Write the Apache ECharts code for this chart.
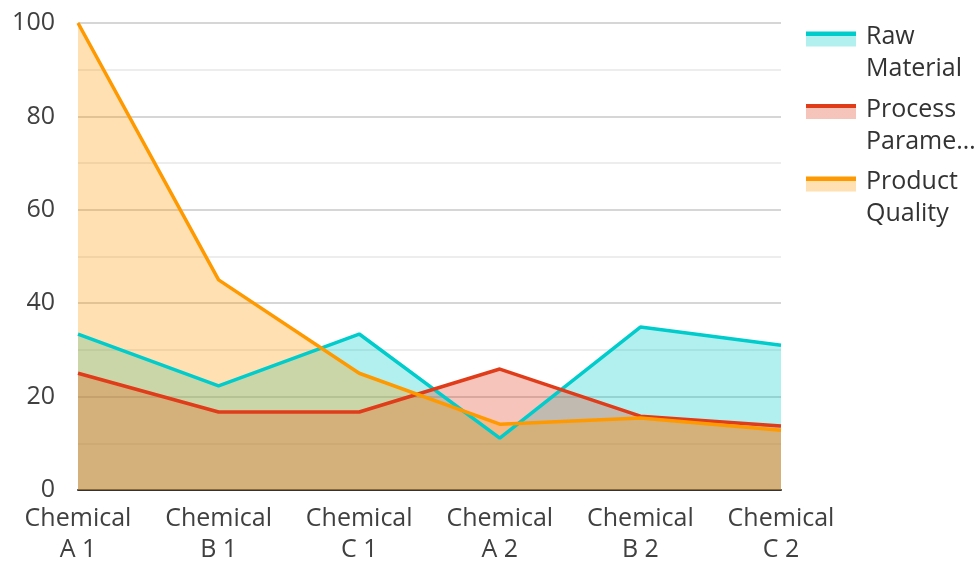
<!DOCTYPE html>
<html>
<head>
<meta charset="utf-8">
<script src="https://cdn.jsdelivr.net/npm/echarts@6/dist/echarts.min.js"></script>
<style>
  html, body { margin: 0; padding: 0; background: #fff; }
  #main { width: 976px; height: 562px; }
</style>
</head>
<body>
<div id="main"></div>
<script>
var categories = ['Chemical A 1', 'Chemical B 1', 'Chemical C 1', 'Chemical A 2', 'Chemical B 2', 'Chemical C 2'];
var rawMaterial = [33.4, 22.3, 33.4, 11.1, 34.9, 31.0];
var processParams = [25.0, 16.7, 16.7, 25.9, 15.8, 13.7];
var productQuality = [100, 45, 25, 14.1, 15.4, 12.8];
var seriesNames = ['Raw Material', 'Process Parameters', 'Product Quality'];
var legendLabels = {
  'Raw Material': ['Raw', 'Material'],
  'Process Parameters': ['Process', 'Parame\u2026'],
  'Product Quality': ['Product', 'Quality']
};
var lineColors = ['#00cccc', '#e03c1a', '#ff9900'];
var areaColors = ['rgba(0,204,204,0.3)', 'rgba(224,60,26,0.3)', 'rgba(255,153,0,0.3)'];

var chart = echarts.init(document.getElementById('main'), null, { renderer: 'canvas' });

function iconColor(i) {
  // line on top, area below
  return {
    type: 'linear', x: 0, y: 0, x2: 0, y2: 1,
    colorStops: [
      { offset: 0, color: lineColors[i] },
      { offset: 0.27, color: lineColors[i] },
      { offset: 0.27, color: areaColors[i] },
      { offset: 1, color: areaColors[i] }
    ]
  };
}

function makeSeries(i, data) {
  return {
    name: seriesNames[i],
    type: 'line',
    data: data,
    showSymbol: false,
    symbol: 'none',
    lineStyle: { color: lineColors[i], width: 3.5 },
    itemStyle: { color: lineColors[i] },
    areaStyle: { color: areaColors[i], opacity: 1 }
  };
}

var option = {
  textStyle: { fontFamily: 'Open Sans' },
  grid: { left: 78, right: 195, top: 23, bottom: 72, containLabel: false, outerBoundsMode: 'none' },
  legend: {
    orient: 'vertical',
    left: 806,
    top: 3,
    padding: 0,
    itemWidth: 50,
    itemHeight: 15,
    itemGap: -6,
    icon: 'rect',
    data: seriesNames.map(function (n, i) {
      return { name: n, icon: 'rect', itemStyle: { color: iconColor(i) } };
    }),
    formatter: function (name) {
      var l = legendLabels[name];
      return '{s| }\n{t|' + l[0] + '}\n{t|' + l[1] + '}';
    },
    textStyle: {
      fontSize: 25,
      color: '#333',
      padding: [0, 0, 0, 5],
      rich: {
        s: { fontSize: 8, lineHeight: 28 },
        t: { fontSize: 25, lineHeight: 32, color: '#333' }
      }
    }
  },
  xAxis: {
    type: 'category',
    data: categories,
    boundaryGap: false,
    axisLine: { lineStyle: { color: '#333', width: 2 } },
    axisTick: { show: false },
    axisLabel: {
      interval: 0,
      fontSize: 25,
      color: '#404040',
      lineHeight: 31,
      margin: 13,
      formatter: function (v) { return v.replace('Chemical ', 'Chemical\n'); }
    }
  },
  yAxis: {
    type: 'value',
    min: 0,
    max: 100,
    interval: 20,
    axisLine: { show: false },
    axisTick: { show: false },
    axisLabel: { fontSize: 25, color: '#404040', margin: 23 },
    splitLine: { lineStyle: { color: '#c8c8c8', width: 1.5 } },
    minorTick: { show: false, splitNumber: 2 },
    minorSplitLine: { show: true, lineStyle: { color: '#e8e8e8', width: 1.5 } }
  },
  series: [
    makeSeries(0, rawMaterial),
    makeSeries(1, processParams),
    makeSeries(2, productQuality)
  ]
};

chart.setOption(option);
</script>
</body>
</html>
